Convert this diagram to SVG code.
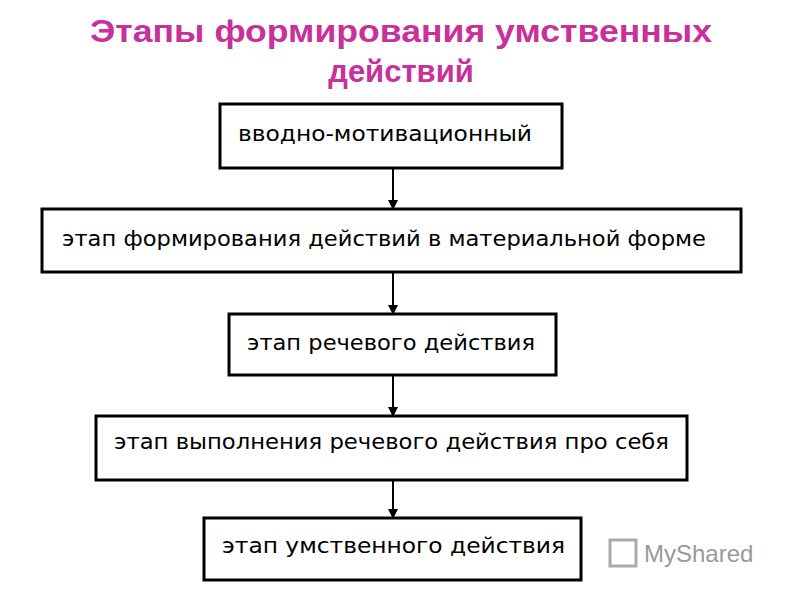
<svg xmlns="http://www.w3.org/2000/svg" width="800" height="600" viewBox="0 0 800 600">
<style>
.t{font-family:"Liberation Sans",Arial,sans-serif;font-weight:bold;font-size:31px;fill:#c8309a;text-anchor:middle}
.b{fill:#fff;stroke:#000;stroke-width:3}
.l{font-family:"DejaVu Sans",sans-serif;font-size:21px;fill:#000}
.c{stroke:#000;stroke-width:2;fill:none}
</style>
<defs><marker id="a" markerWidth="10" markerHeight="10" refX="8" refY="5" orient="auto" markerUnits="userSpaceOnUse"><path d="M0,0 L10,5 L0,10 z"/></marker></defs>
<rect width="800" height="600" fill="#fff"/>
<text class="t" x="401" y="42" textLength="622" lengthAdjust="spacingAndGlyphs">Этапы формирования умственных</text>
<text class="t" x="401" y="82">действий</text>
<g id="n1"><rect class="b" x="220" y="104" width="342" height="64"/><text class="l" x="238" y="141" textLength="294" lengthAdjust="spacingAndGlyphs">вводно-мотивационный</text></g>
<g id="n2"><rect class="b" x="42" y="209" width="699" height="63"/><text class="l" x="62" y="246" textLength="644" lengthAdjust="spacingAndGlyphs">этап формирования действий в материальной форме</text></g>
<g id="n3"><rect class="b" x="229" y="314" width="327" height="61"/><text class="l" x="247" y="350" textLength="288" lengthAdjust="spacingAndGlyphs">этап речевого действия</text></g>
<g id="n4"><rect class="b" x="96" y="416" width="591" height="64"/><text class="l" x="114" y="449" textLength="555" lengthAdjust="spacingAndGlyphs">этап выполнения речевого действия про себя</text></g>
<g id="n5"><rect class="b" x="204" y="518" width="377" height="62"/><text class="l" x="222" y="553" textLength="343" lengthAdjust="spacingAndGlyphs">этап умственного  действия</text></g>
<g id="connectors">
<line class="c" x1="393" y1="168" x2="393" y2="208" marker-end="url(#a)"/>
<line class="c" x1="393" y1="272" x2="393" y2="313" marker-end="url(#a)"/>
<line class="c" x1="393" y1="375" x2="393" y2="415" marker-end="url(#a)"/>
<line class="c" x1="393" y1="480" x2="393" y2="517" marker-end="url(#a)"/>
</g>
<g id="logo"><rect x="610" y="540" width="26" height="26" fill="none" stroke="#aaa" stroke-width="3"/><text x="644" y="562" font-family="Liberation Sans,sans-serif" font-size="24" fill="#999">MyShared</text></g>
</svg>
